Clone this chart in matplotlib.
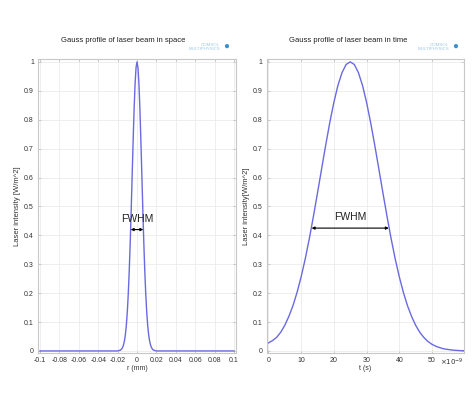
import numpy as np
import matplotlib
matplotlib.use("Agg")
import matplotlib.pyplot as plt

plt.rcParams['font.family'] = ['Liberation Sans Narrow', 'Liberation Sans', 'DejaVu Sans']

# space profile, r in mm
r_mm = [-0.1, -0.02, -0.019, -0.018, -0.017, -0.016, -0.015, -0.014, -0.013, -0.012, -0.011,
        -0.010, -0.009, -0.008, -0.007, -0.006, -0.005, -0.004, -0.003, -0.002, -0.001,
        0.0, 0.001, 0.002, 0.003, 0.004, 0.005, 0.006, 0.007, 0.008, 0.009, 0.010,
        0.011, 0.012, 0.013, 0.014, 0.015, 0.016, 0.017, 0.018, 0.019, 0.02, 0.1]
I_space = [0.0, 0.0, 0.001, 0.002, 0.003, 0.006, 0.011, 0.020, 0.034, 0.056, 0.089,
           0.135, 0.198, 0.278, 0.375, 0.487, 0.607, 0.726, 0.835, 0.923, 0.980,
           1.0, 0.980, 0.923, 0.835, 0.726, 0.607, 0.487, 0.375, 0.278, 0.198, 0.135,
           0.089, 0.056, 0.034, 0.020, 0.011, 0.006, 0.003, 0.002, 0.001, 0.0, 0.0]

# time profile, t in ns
t_ns = [0, 1.25, 2.5, 3.75, 5, 6.25, 7.5, 8.75, 10, 11.25, 12.5, 13.75, 15, 16.25, 17.5,
        18.75, 20, 21.25, 22.5, 23.75, 25, 26.25, 27.5, 28.75, 30, 31.25, 32.5, 33.75,
        35, 36.25, 37.5, 38.75, 40, 41.25, 42.5, 43.75, 45, 46.25, 47.5, 48.75, 50,
        51.25, 52.5, 53.75, 55, 56.25, 57.5, 58.75, 59.8]
I_time = [0.028, 0.036, 0.047, 0.065, 0.089, 0.120, 0.157, 0.203, 0.257, 0.319, 0.389,
          0.466, 0.547, 0.630, 0.712, 0.790, 0.860, 0.919, 0.963, 0.991, 1.0, 0.991,
          0.963, 0.919, 0.860, 0.790, 0.712, 0.630, 0.547, 0.466, 0.389, 0.319, 0.257,
          0.203, 0.157, 0.120, 0.089, 0.065, 0.047, 0.033, 0.023, 0.016, 0.011, 0.007,
          0.005, 0.003, 0.002, 0.001, 0.001]

fwhm_space = (-0.0065, 0.0065, 0.42)
fwhm_time = (13.2, 36.8, 0.425)

yticks = [0, 0.1, 0.2, 0.3, 0.4, 0.5, 0.6, 0.7, 0.8, 0.9, 1]
ylabels = ['0', '0.1', '0.2', '0.3', '0.4', '0.5', '0.6', '0.7', '0.8', '0.9', '1']
rticks = [-0.1, -0.08, -0.06, -0.04, -0.02, 0, 0.02, 0.04, 0.06, 0.08, 0.1]
rlabels = ['-0.1', '-0.08', '-0.06', '-0.04', '-0.02', '0', '0.02', '0.04', '0.06', '0.08', '0.1']
tticks = [0, 10, 20, 30, 40, 50]

line_col = '#6a6ae0'
fig = plt.figure(figsize=(4.74, 3.97), dpi=100)
ax1 = fig.add_axes([0.0802, 0.1116, 0.4177, 0.7398])
ax2 = fig.add_axes([0.5633, 0.1116, 0.4156, 0.7398])


def style(ax):
    ax.set_ylim(-0.006, 1.01)
    ax.set_yticks(yticks)
    ax.set_yticklabels(ylabels)
    ax.grid(True, color='#ebebeb', lw=0.6)
    ax.set_axisbelow(True)
    ax.tick_params(direction='in', length=2, width=0.5, colors='#bbbbbb',
                   labelcolor='#333333', labelsize=5, pad=3, top=True, right=True)
    for s in ax.spines.values():
        s.set_color('#c8c8c8')
        s.set_linewidth(0.8)


style(ax1)
ax1.plot(r_mm, I_space, color=line_col, lw=1.0)
ax1.set_xlim(-0.102, 0.102)
ax1.set_xticks(rticks)
ax1.set_xticklabels(rlabels)
ax1.set_xlabel('r (mm)', fontsize=5, labelpad=1, color='#333333')
ax1.set_ylabel('Laser intensity [W/m^2]', fontsize=5.5, labelpad=2, color='#333333')
ax1.annotate('', xy=(fwhm_space[0], fwhm_space[2]), xytext=(fwhm_space[1], fwhm_space[2]),
             arrowprops=dict(arrowstyle='<|-|>', color='black', lw=0.8,
                             mutation_scale=4, shrinkA=0, shrinkB=0))
ax1.text(0, fwhm_space[2] + 0.02, 'FWHM', ha='center', va='bottom', fontsize=7.5, color='#222222')

style(ax2)
ax2.plot(t_ns, I_time, color=line_col, lw=1.0)
ax2.set_xlim(-0.45, 59.8)
ax2.set_xticks(tticks)
ax2.set_xlabel('t (s)', fontsize=5, labelpad=1, color='#333333')
ax2.set_ylabel('Laser intensity[W/m^2]', fontsize=5.5, labelpad=2, color='#333333')
ax2.annotate('', xy=(fwhm_time[0], fwhm_time[2]), xytext=(fwhm_time[1], fwhm_time[2]),
             arrowprops=dict(arrowstyle='<|-|>', color='black', lw=0.8,
                             mutation_scale=4, shrinkA=0, shrinkB=0))
ax2.text(25, fwhm_time[2] + 0.02, 'FWHM', ha='center', va='bottom', fontsize=7.5, color='#222222')
ax2.text(1.0, -0.012, r'$\times10^{-9}$', transform=ax2.transAxes, ha='right', va='top',
         fontsize=5, color='#333333')

# titles and logo marks
fig.text(61 / 474, 1 - 41 / 397, 'Gauss profile of laser beam in space', fontsize=5.5,
         va='center', color='#222222')
fig.text(289 / 474, 1 - 41 / 397, 'Gauss profile of laser beam in time', fontsize=5.5,
         va='center', color='#222222')
for xr in (226 / 474, 455 / 474):
    fig.text(xr - 0.012, 1 - 47 / 397, 'COMSOL\nMULTIPHYSICS', fontsize=3.2, color='#9cc8e8',
             ha='right', va='center', linespacing=0.9)
    fig.text(xr, 1 - 46 / 397, '\u25cf', fontsize=7, color='#3a8fcf', ha='center', va='center')

fig.savefig('out.png', dpi=100)
